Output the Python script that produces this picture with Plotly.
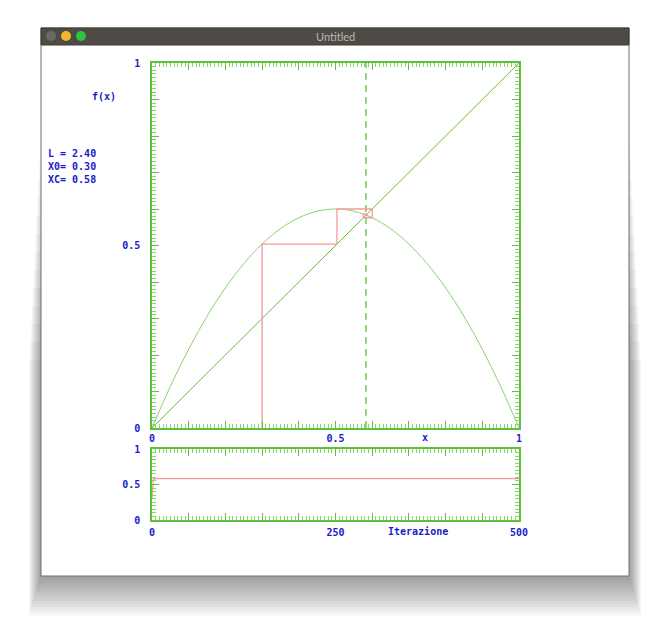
import plotly.graph_objects as go

# ---- data ----
L_PARAM = "2.40"
X0_TEXT = "0.30"
XC_TEXT = "0.58"

curve_x = [0.00, 0.05, 0.10, 0.15, 0.20, 0.25, 0.30, 0.35, 0.40, 0.45, 0.50,
           0.55, 0.60, 0.65, 0.70, 0.75, 0.80, 0.85, 0.90, 0.95, 1.00]
curve_y = [0.000, 0.114, 0.216, 0.306, 0.384, 0.450, 0.504, 0.546, 0.576, 0.594, 0.600,
           0.594, 0.576, 0.546, 0.504, 0.450, 0.384, 0.306, 0.216, 0.114, 0.000]

diag_x = [0.0, 1.0]
diag_y = [0.0, 1.0]

cobweb_x = [0.300, 0.300, 0.504, 0.504, 0.600, 0.600, 0.576, 0.576, 0.586, 0.586, 0.582, 0.582, 0.584, 0.584, 0.583]
cobweb_y = [0.000, 0.504, 0.504, 0.600, 0.600, 0.576, 0.576, 0.586, 0.586, 0.582, 0.582, 0.584, 0.584, 0.583, 0.583]

xc_value = 0.583
xc_line_y = [0.0, 1.0]

iter_n = [0, 1, 2, 3, 4, 5, 6, 7, 8, 9, 10, 500]
iter_x = [0.300, 0.504, 0.600, 0.576, 0.586, 0.582, 0.584, 0.583, 0.583, 0.583, 0.583, 0.583]

main_tickvals = [0.0, 0.1, 0.2, 0.3, 0.4, 0.5, 0.6, 0.7, 0.8, 0.9, 1.0]
main_ticktext = ["0", "", "", "", "", "0.5", "", "", "", "", "1"]
iter_tickvals = [0, 50, 100, 150, 200, 250, 300, 350, 400, 450, 500]
iter_ticktext = ["0", "", "", "", "", "250", "", "", "", "", "500"]
low_y_tickvals = [0.0, 0.5, 1.0]
low_y_ticktext = ["0", "0.5", "1"]

# ---- styles ----
W, H = 670, 631
GREEN = "#5cc23a"
GREEN_LIGHT = "#8ad46e"
RED = "#f49a9a"
BLUE = "#1c1cc8"
FONT = "DejaVu Sans Mono"
FS = 10


def px(x):
    return x / W


def py(y):
    return 1 - y / H


fig = go.Figure()

fig.add_trace(go.Scatter(x=curve_x, y=curve_y, mode="lines",
                         line=dict(color=GREEN_LIGHT, width=1, shape="spline"),
                         xaxis="x", yaxis="y", hoverinfo="skip"))
fig.add_trace(go.Scatter(x=diag_x, y=diag_y, mode="lines",
                         line=dict(color=GREEN, width=1), xaxis="x", yaxis="y",
                         hoverinfo="skip"))
fig.add_trace(go.Scatter(x=[xc_value, xc_value], y=xc_line_y, mode="lines",
                         line=dict(color=GREEN, width=1.3, dash="7px,5px"),
                         xaxis="x", yaxis="y", hoverinfo="skip"))
fig.add_trace(go.Scatter(x=cobweb_x, y=cobweb_y, mode="lines",
                         line=dict(color=RED, width=1.3), xaxis="x", yaxis="y",
                         hoverinfo="skip"))
fig.add_trace(go.Scatter(x=iter_n, y=iter_x, mode="lines",
                         line=dict(color=RED, width=1.2), xaxis="x2", yaxis="y2",
                         hoverinfo="skip"))

tickfont = dict(family=FONT, size=FS, color=BLUE, weight="bold")

common = dict(showline=True, linecolor=GREEN, linewidth=1.5, mirror="allticks",
              ticks="inside", tickcolor=GREEN, tickwidth=1, ticklen=7,
              showgrid=False, zeroline=False, tickfont=tickfont, fixedrange=True,
              automargin=False)

x_dom = [px(152), px(519)]

fig.update_layout(
    width=W, height=H,
    margin=dict(l=0, r=0, t=0, b=0, pad=0, autoexpand=False),
    paper_bgcolor="white", plot_bgcolor="white",
    showlegend=False,
    xaxis=dict(domain=x_dom, range=[0, 1], anchor="y",
               tickmode="array", tickvals=main_tickvals, ticktext=main_ticktext,
               minor=dict(ticks="inside", dtick=0.01, ticklen=4, tickcolor=GREEN_LIGHT),
               **common),
    yaxis=dict(domain=[py(428), py(63)], range=[0, 1], anchor="x",
               tickmode="array", tickvals=main_tickvals, ticktext=main_ticktext,
               ticklabelstandoff=8,
               minor=dict(ticks="inside", dtick=0.01, ticklen=4, tickcolor=GREEN_LIGHT),
               **common),
    xaxis2=dict(domain=x_dom, range=[0, 500], anchor="y2",
                tickmode="array", tickvals=iter_tickvals, ticktext=iter_ticktext,
                ticklabelstandoff=2,
                minor=dict(ticks="inside", dtick=5, ticklen=4, tickcolor=GREEN_LIGHT),
                **common),
    yaxis2=dict(domain=[py(520), py(449)], range=[0, 1], anchor="x2",
                tickmode="array", tickvals=low_y_tickvals, ticktext=low_y_ticktext,
                ticklabelstandoff=8,
                minor=dict(ticks="inside", dtick=0.05, ticklen=4, tickcolor=GREEN_LIGHT),
                **common),
)

# ---- window decoration (macOS-style frame around the chart) ----
shapes = []
# soft shadow, mostly below the window
for grow in range(40, 0, -3):
    shapes.append(dict(type="rect", xref="paper", yref="paper", layer="below",
                       x0=px(41 - grow * 0.3), x1=px(629 + grow * 0.3),
                       y0=py(576 + grow), y1=py(120 + grow * 6),
                       fillcolor="rgba(0,0,0,0.033)", line=dict(width=0)))
# body
shapes.append(dict(type="rect", xref="paper", yref="paper", layer="below",
                   x0=px(41), x1=px(629), y0=py(576), y1=py(28),
                   fillcolor="white", line=dict(color="#707070", width=1)))
# title bar
shapes.append(dict(type="rect", xref="paper", yref="paper", layer="below",
                   x0=px(41), x1=px(629), y0=py(45), y1=py(28),
                   fillcolor="#4f4a44", line=dict(color="#3e3a36", width=1)))
# traffic lights
for cx, col in [(51, "#6a6865"), (66, "#f6b72c"), (81, "#2bc63f")]:
    shapes.append(dict(type="circle", xref="paper", yref="paper", layer="below",
                       x0=px(cx - 5), x1=px(cx + 5), y0=py(41), y1=py(31),
                       fillcolor=col, line=dict(width=0)))
fig.update_layout(shapes=shapes)

ann_font = dict(family=FONT, size=FS, color=BLUE, weight="bold")
annotations = [
    dict(text="Untitled", x=px(335), y=py(36), font=dict(family="Lato", size=11, color="#bdb7b0")),
    dict(text="f(x)", x=px(104), y=py(96), font=ann_font),
    dict(text="x", x=px(425), y=py(437), font=ann_font),
    dict(text="Iterazione", x=px(418), y=py(531), font=ann_font),
    dict(text=f"L = {L_PARAM}<br>X0= {X0_TEXT}<br>XC= {XC_TEXT}",
         x=px(46), y=py(166), xanchor="left", align="left", font=ann_font),
]
for a in annotations:
    a.update(xref="paper", yref="paper", showarrow=False)
    a.setdefault("xanchor", "center")
    a.setdefault("yanchor", "middle")
fig.update_layout(annotations=annotations)

fig.write_html("out.html", config={"displayModeBar": False},
               post_script="document.body.style.margin='0';")
